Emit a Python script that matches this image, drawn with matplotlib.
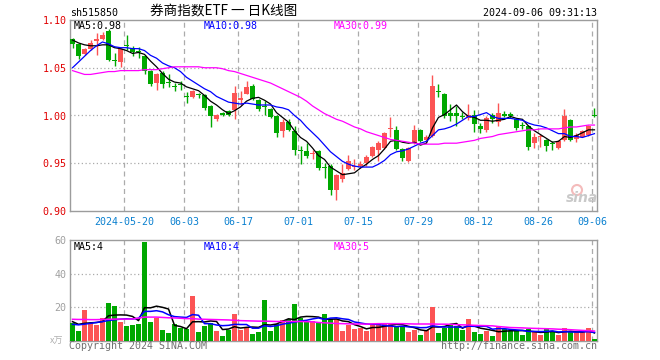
import matplotlib
matplotlib.use('Agg')
import matplotlib.pyplot as plt
import numpy as np
from matplotlib.patches import Circle
from matplotlib.transforms import IdentityTransform

# 日K数据 2024-05-07 .. 2024-09-06
opens = [1.080, 1.075, 1.064, 1.070, 1.078, 1.080, 1.089, 1.058, 1.056, 1.073,
         1.071, 1.067, 1.062, 1.047, 1.034, 1.045, 1.034, 1.031, 1.033, 1.020,
         1.019, 1.022, 1.021, 1.010, 0.996, 1.002, 1.005, 1.006, 1.016, 1.023,
         1.031, 1.016, 1.010, 1.007, 0.999, 0.984, 0.993, 0.984, 0.964, 0.963,
         0.960, 0.963, 0.946, 0.947, 0.922, 0.934, 0.944, 0.946, 0.947, 0.950,
         0.958, 0.964, 0.966, 0.986, 0.985, 0.965, 0.952, 0.971, 0.985, 0.974,
         0.979, 1.026, 1.023, 1.003, 1.003, 0.999, 0.997, 1.001, 0.989, 0.985,
         1.001, 0.993, 1.001, 1.001, 0.996, 0.990, 0.989, 0.971, 0.977, 0.974,
         0.971, 0.966, 0.974, 0.995, 0.975, 0.978, 0.980, 1.000]
highs = [1.081, 1.076, 1.071, 1.079, 1.086, 1.087, 1.091, 1.065, 1.071, 1.084,
         1.073, 1.072, 1.063, 1.048, 1.044, 1.047, 1.043, 1.034, 1.036, 1.025,
         1.027, 1.024, 1.023, 1.011, 1.002, 1.004, 1.006, 1.031, 1.026, 1.036,
         1.033, 1.017, 1.015, 1.008, 1.000, 0.996, 0.996, 0.989, 0.968, 0.971,
         0.964, 0.964, 0.950, 0.949, 0.939, 0.949, 0.959, 0.954, 0.952, 0.959,
         0.968, 0.973, 0.983, 0.998, 0.989, 0.966, 0.967, 0.990, 0.986, 0.980,
         1.042, 1.033, 1.024, 1.012, 1.010, 1.004, 1.012, 1.006, 0.992, 0.999,
         1.003, 1.013, 1.005, 1.004, 0.997, 0.993, 0.990, 0.982, 0.981, 0.975,
         0.973, 0.974, 1.007, 0.996, 0.982, 0.985, 0.990, 1.008]
lows = [1.071, 1.059, 1.063, 1.069, 1.063, 1.079, 1.057, 1.052, 1.051, 1.069,
        1.062, 1.060, 1.043, 1.031, 1.027, 1.029, 1.030, 1.026, 1.027, 1.013,
        1.018, 1.018, 1.006, 0.988, 0.994, 0.999, 0.999, 0.996, 1.011, 1.022,
        1.016, 1.005, 1.001, 0.997, 0.977, 0.977, 0.984, 0.959, 0.949, 0.956,
        0.954, 0.943, 0.935, 0.917, 0.912, 0.930, 0.943, 0.943, 0.945, 0.947,
        0.957, 0.952, 0.965, 0.977, 0.964, 0.952, 0.951, 0.970, 0.972, 0.972,
        0.977, 1.019, 0.997, 0.994, 0.989, 0.996, 0.995, 0.983, 0.982, 0.983,
        0.992, 0.989, 0.998, 0.997, 0.985, 0.986, 0.964, 0.966, 0.967, 0.963,
        0.964, 0.965, 0.973, 0.973, 0.972, 0.977, 0.979, 0.998]
closes = [1.075, 1.062, 1.070, 1.076, 1.080, 1.084, 1.058, 1.057, 1.070, 1.073,
          1.066, 1.066, 1.047, 1.033, 1.043, 1.033, 1.034, 1.030, 1.032, 1.019,
          1.026, 1.021, 1.008, 0.999, 1.001, 1.001, 1.001, 1.024, 1.018, 1.030,
          1.017, 1.007, 1.009, 0.998, 0.982, 0.993, 0.985, 0.964, 0.963, 0.958,
          0.961, 0.945, 0.945, 0.922, 0.938, 0.940, 0.952, 0.947, 0.949, 0.957,
          0.967, 0.971, 0.982, 0.987, 0.965, 0.955, 0.966, 0.985, 0.973, 0.978,
          1.031, 1.025, 0.999, 0.999, 0.999, 0.998, 1.001, 0.991, 0.986, 0.997,
          0.996, 1.003, 1.000, 1.000, 0.987, 0.989, 0.967, 0.977, 0.978, 0.968,
          0.970, 0.973, 0.999, 0.974, 0.980, 0.984, 0.989, 0.999]

ma5 = [1.079, 1.076, 1.074, 1.073, 1.073, 1.074, 1.074, 1.071, 1.070, 1.068,
       1.065, 1.066, 1.064, 1.057, 1.051, 1.044, 1.038, 1.035, 1.034, 1.030,
       1.028, 1.026, 1.021, 1.015, 1.011, 1.006, 1.002, 1.005, 1.009, 1.015,
       1.018, 1.019, 1.016, 1.012, 1.003, 0.998, 0.993, 0.984, 0.977, 0.973,
       0.966, 0.958, 0.954, 0.946, 0.942, 0.938, 0.939, 0.940, 0.945, 0.949,
       0.954, 0.958, 0.965, 0.973, 0.974, 0.972, 0.971, 0.972, 0.969, 0.971,
       0.987, 0.998, 1.001, 1.006, 1.011, 1.004, 0.999, 0.998, 0.995, 0.995,
       0.994, 0.995, 0.996, 0.999, 0.997, 0.996, 0.989, 0.984, 0.980, 0.976,
       0.972, 0.973, 0.978, 0.977, 0.979, 0.982, 0.985, 0.985]
ma10 = [1.050, 1.056, 1.062, 1.068, 1.073, 1.077, 1.075, 1.072, 1.071, 1.071,
        1.070, 1.070, 1.068, 1.063, 1.060, 1.055, 1.052, 1.050, 1.046, 1.040,
        1.036, 1.032, 1.028, 1.025, 1.020, 1.017, 1.014, 1.013, 1.012, 1.013,
        1.012, 1.011, 1.011, 1.011, 1.009, 1.008, 1.006, 1.000, 0.995, 0.988,
        0.982, 0.976, 0.969, 0.962, 0.957, 0.952, 0.949, 0.947, 0.946, 0.946,
        0.946, 0.949, 0.953, 0.959, 0.962, 0.963, 0.965, 0.968, 0.971, 0.973,
        0.979, 0.985, 0.986, 0.988, 0.991, 0.995, 0.999, 0.999, 1.001, 1.003,
        0.999, 0.997, 0.997, 0.997, 0.996, 0.995, 0.992, 0.990, 0.989, 0.987,
        0.984, 0.981, 0.981, 0.978, 0.978, 0.977, 0.979, 0.981]
ma30 = [1.047, 1.045, 1.043, 1.043, 1.044, 1.045, 1.046, 1.046, 1.047, 1.047,
        1.047, 1.047, 1.048, 1.048, 1.048, 1.049, 1.050, 1.051, 1.051, 1.051,
        1.051, 1.051, 1.050, 1.050, 1.050, 1.049, 1.047, 1.046, 1.044, 1.042,
        1.040, 1.038, 1.036, 1.034, 1.031, 1.028, 1.025, 1.022, 1.019, 1.015,
        1.010, 1.006, 1.002, 0.999, 0.996, 0.994, 0.991, 0.988, 0.986, 0.983,
        0.981, 0.979, 0.977, 0.975, 0.974, 0.973, 0.972, 0.971, 0.970, 0.970,
        0.970, 0.970, 0.971, 0.971, 0.971, 0.972, 0.973, 0.974, 0.976, 0.977,
        0.978, 0.980, 0.981, 0.982, 0.983, 0.984, 0.985, 0.985, 0.986, 0.986,
        0.986, 0.986, 0.987, 0.988, 0.988, 0.989, 0.990, 0.990]

# 成交量 (万)
vols = [10.6, 6.0, 18.5, 10.5, 9.6, 13.6, 22.6, 20.5, 11.3, 9.0,
        9.6, 10.1, 58.8, 11.0, 13.8, 6.5, 5.0, 10.0, 7.9, 7.3,
        26.9, 5.5, 9.1, 10.5, 5.9, 3.2, 6.7, 16.2, 6.7, 7.5,
        4.4, 5.5, 24.4, 5.9, 10.1, 12.5, 12.9, 22.2, 13.5, 11.9,
        11.9, 11.5, 15.8, 13.3, 12.9, 5.9, 9.5, 7.1, 7.5, 5.9,
        9.9, 9.9, 10.3, 10.3, 8.9, 8.9, 5.3, 6.3, 3.6, 6.5,
        20.4, 4.8, 7.9, 9.9, 9.1, 6.5, 13.1, 5.3, 4.2, 5.9,
        3.0, 8.9, 6.9, 5.9, 5.9, 3.6, 7.1, 5.1, 3.6, 7.1,
        5.5, 3.6, 7.5, 5.1, 5.1, 5.1, 7.5, 1.2]
vol_ma5 = [11.5, 9.9, 10.5, 10.8, 11.0, 11.6, 15.0, 15.4, 15.5, 15.4,
           14.6, 12.1, 19.8, 19.7, 20.7, 20.0, 19.0, 9.3, 8.6, 7.3,
           11.4, 11.5, 11.3, 11.9, 11.6, 6.8, 7.1, 8.5, 7.7, 8.1,
           8.3, 8.1, 9.7, 9.5, 10.1, 11.7, 13.2, 12.7, 14.2, 14.6,
           14.5, 14.2, 12.9, 12.9, 13.1, 11.9, 11.5, 9.7, 8.6, 7.2,
           8.0, 8.1, 8.7, 9.3, 9.9, 9.7, 8.7, 7.9, 6.6, 6.1,
           8.4, 8.3, 8.6, 9.9, 10.4, 7.6, 9.3, 8.8, 7.6, 7.0,
           6.3, 5.5, 5.8, 6.1, 6.1, 6.2, 5.9, 5.5, 5.1, 5.3,
           5.7, 5.0, 5.5, 5.8, 5.4, 5.3, 6.1, 4.8]
vol_ma10 = [9.9, 9.6, 10.0, 10.5, 11.0, 11.5, 12.2, 12.6, 13.0, 13.2,
            13.1, 13.5, 17.6, 17.6, 18.0, 17.3, 15.6, 14.5, 14.2, 14.0,
            15.7, 15.3, 10.3, 10.3, 9.5, 9.1, 9.3, 9.9, 9.8, 9.8,
            7.6, 7.6, 9.1, 8.6, 9.1, 10.0, 10.6, 11.2, 11.9, 12.3,
            13.1, 13.7, 12.8, 13.6, 13.8, 13.2, 12.8, 11.3, 10.7, 10.1,
            9.9, 9.8, 9.2, 8.9, 8.5, 8.8, 8.4, 8.3, 7.9, 8.0,
            9.0, 8.5, 8.3, 8.3, 8.3, 8.0, 8.8, 8.7, 8.8, 8.7,
            7.0, 7.4, 7.3, 6.9, 6.6, 6.3, 5.7, 5.7, 5.6, 5.7,
            6.0, 5.4, 5.5, 5.4, 5.3, 5.5, 5.5, 5.1]
vol_ma30 = [12.9, 12.8, 12.8, 12.7, 12.7, 12.8, 12.9, 13.0, 13.0, 13.0,
            13.1, 13.6, 14.2, 14.2, 14.2, 14.0, 13.8, 13.7, 13.5, 13.3,
            13.3, 13.0, 12.9, 12.8, 12.7, 12.6, 12.5, 12.3, 12.1, 12.0,
            11.9, 11.8, 11.8, 11.7, 11.6, 11.6, 11.6, 11.6, 11.6, 11.5,
            11.4, 11.0, 10.8, 10.6, 10.4, 10.3, 10.2, 10.1, 10.1, 10.0,
            10.2, 10.3, 10.3, 10.3, 10.3, 10.3, 10.2, 10.1, 10.1, 10.1,
            10.1, 10.0, 10.0, 9.9, 9.7, 9.6, 9.5, 9.3, 9.2, 9.1,
            9.0, 8.6, 8.3, 8.0, 7.9, 7.8, 7.6, 7.5, 7.4, 7.3,
            7.2, 7.0, 6.9, 6.7, 6.5, 6.3, 6.1, 5.9]

tick_idx = [9, 19, 28, 38, 48, 58, 68, 78, 87]
tick_labels = ['2024-05-20', '06-03', '06-17', '07-01', '07-15',
               '07-29', '08-12', '08-26', '09-06']
price_ticks = [0.90, 0.95, 1.00, 1.05, 1.10]
vol_ticks = [20, 40, 60]

RED = '#fc5454'
GREEN = '#00a800'
GRID = '#ababab'
MONO = 'DejaVu Sans Mono'
CJK = ['Noto Sans CJK SC', 'DejaVu Sans']
FS = 7.2

W, H = 660, 360
fig = plt.figure(figsize=(6.6, 3.6), dpi=100)
fig.patch.set_facecolor('white')


def fx(px):
    return px / W


def fy(py):
    return 1 - py / H


ax_p = fig.add_axes([fx(70), fy(211), (597 - 70) / W, (211 - 20) / H])
ax_v = fig.add_axes([fx(70), fy(341), (597 - 70) / W, (341 - 240) / H])

o = np.array(opens)
c = np.array(closes)
x = np.arange(len(o))
up = c > o
colors = np.where(up, RED, GREEN)

# 网格
for ax in (ax_p, ax_v):
    for i in tick_idx:
        ax.axvline(i - 0.42, color=GRID, linestyle=(0, (4, 3)), linewidth=0.9, zorder=0)
    ax.set_xlim(-0.42, len(o) - 0.58)
    for s in ax.spines.values():
        s.set_color('#9c9c9c')
        s.set_linewidth(1.0)
for yv in [0.95, 1.00, 1.05]:
    ax_p.axhline(yv, color=GRID, linestyle=(0, (1, 2)), linewidth=0.9, zorder=0)
for yv in [20, 40]:
    ax_v.axhline(yv, color=GRID, linestyle=(0, (1, 2)), linewidth=0.9, zorder=0)

# K线
ax_p.vlines(x, lows, highs, colors=colors, linewidth=1.0, zorder=2)
body_bottom = np.minimum(o, c)
body_h = np.maximum(np.abs(c - o), 0.0011)
ax_p.bar(x, body_h, bottom=body_bottom, width=0.8, color=colors, linewidth=0, zorder=3)
ax_p.plot(x, ma5, color='black', linewidth=0.9, zorder=4)
ax_p.plot(x, ma10, color='#0000ff', linewidth=0.9, zorder=4)
ax_p.plot(x, ma30, color='#ff00ff', linewidth=0.9, zorder=4)
ax_p.set_ylim(0.90, 1.10)
ax_p.set_yticks(price_ticks)
ax_p.set_yticklabels(['%.2f' % t for t in price_ticks], fontfamily=MONO,
                     fontsize=FS, color='#e00000')
ax_p.set_xticks([i - 0.42 for i in tick_idx])
ax_p.set_xticklabels(tick_labels, fontfamily=MONO, fontsize=FS, color='#0a80d0')
ax_p.tick_params(axis='y', length=0, pad=2.5)
ax_p.tick_params(axis='x', length=0, pad=4.5)

# 成交量
ax_v.bar(x, vols, width=0.8, color=colors, linewidth=0, zorder=3)
ax_v.plot(x, vol_ma5, color='black', linewidth=1.1, zorder=4)
ax_v.plot(x, vol_ma10, color='#0000ff', linewidth=1.1, zorder=4)
ax_v.plot(x, vol_ma30, color='#ff00ff', linewidth=1.1, zorder=4)
ax_v.set_ylim(0, 60)
ax_v.set_yticks(vol_ticks)
ax_v.set_yticklabels([str(t) for t in vol_ticks], fontfamily=MONO,
                     fontsize=FS, color='#a0a0a0')
ax_v.set_xticks([])
ax_v.tick_params(length=0, pad=2.5)

# 文字
fig.text(fx(70), fy(13.5), 'sh515850', fontfamily=MONO, fontsize=FS, va='center')
fig.text(fx(224), fy(11.5), '券商指数ETF 一 日K线图', family=CJK, fontsize=9.8,
         ha='center', va='center')
fig.text(fx(597), fy(12.5), '2024-09-06 09:31:13', fontfamily=MONO, fontsize=FS,
         ha='right', va='center')

fig.text(fx(74), fy(26), 'MA5:0.98', fontfamily=MONO, fontsize=FS, va='center', color='black')
fig.text(fx(204), fy(26), 'MA10:0.98', fontfamily=MONO, fontsize=FS, va='center', color='#0000ff')
fig.text(fx(334), fy(26), 'MA30:0.99', fontfamily=MONO, fontsize=FS, va='center', color='#ff00ff')
fig.text(fx(74), fy(246.5), 'MA5:4', fontfamily=MONO, fontsize=FS, va='center', color='black')
fig.text(fx(204), fy(246.5), 'MA10:4', fontfamily=MONO, fontsize=FS, va='center', color='#0000ff')
fig.text(fx(334), fy(246.5), 'MA30:5', fontfamily=MONO, fontsize=FS, va='center', color='#ff00ff')

fig.text(fx(63), fy(341), 'x万', family=CJK, fontsize=6.5, ha='right', va='center', color='#b0b0b0')
fig.text(fx(69), fy(346), 'Copyright 2024 SINA.COM', fontfamily=MONO, fontsize=FS,
         va='center', color='#707070')
fig.text(fx(597), fy(346), 'http://finance.sina.com.cn', fontfamily=MONO, fontsize=FS,
         ha='right', va='center', color='#707070')

# 新浪水印
fig.add_artist(Circle((577, H - 190), 5, transform=IdentityTransform(), fill=False,
                      edgecolor='#f3b4b4', linewidth=1.5, alpha=0.9))
fig.text(fx(582), fy(198.5), 'sina', fontsize=10, fontweight='bold', fontstyle='italic',
         ha='center', va='center', color='#c9c9c9')

fig.savefig('out.png', dpi=100)
